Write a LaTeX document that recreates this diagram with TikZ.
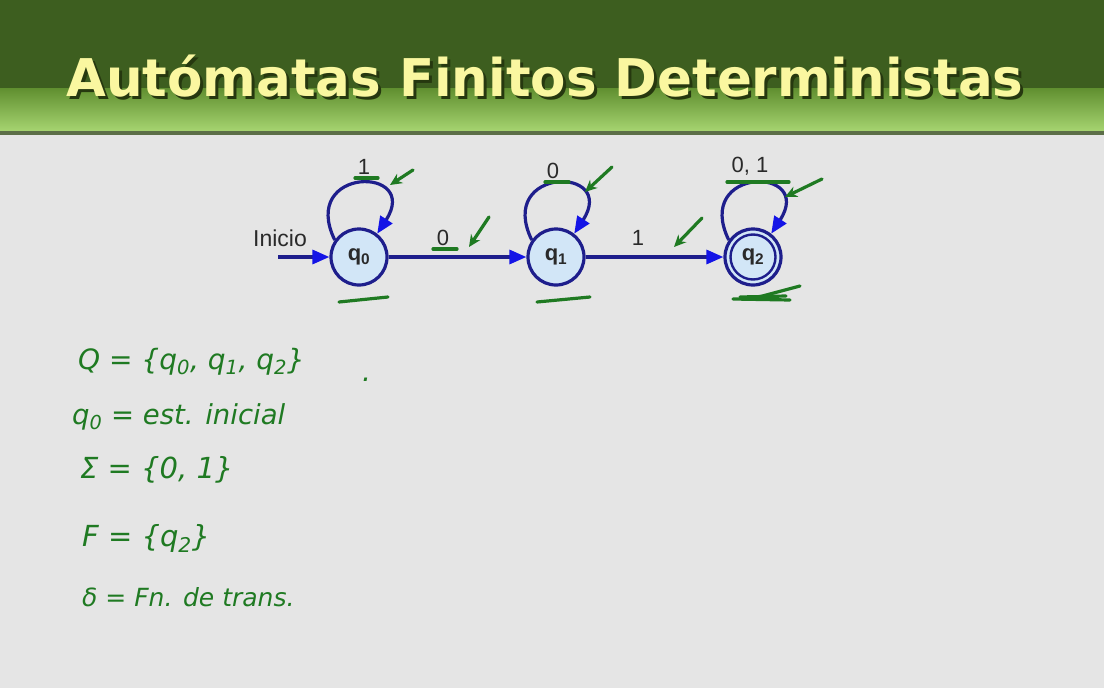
\documentclass[tikz,border=0pt]{standalone}
\usepackage{fontspec}
\setmainfont{Liberation Sans}
\newfontfamily\titlefont{DejaVu Sans}
\newfontfamily\handfont{DejaVu Sans}
\usetikzlibrary{arrows.meta}
\definecolor{bg}{HTML}{E5E5E5}
\definecolor{hdark}{HTML}{3D5E1F}
\definecolor{hmid}{HTML}{608F30}
\definecolor{hlight}{HTML}{A6D470}
\definecolor{hline}{HTML}{5C6E48}
\definecolor{titleyellow}{HTML}{FAF7A0}
\definecolor{titleshadow}{HTML}{26380F}
\definecolor{navy}{HTML}{1E1E8C}
\definecolor{arrowblue}{HTML}{1414E6}
\definecolor{statefill}{HTML}{D2E6F7}
\definecolor{labelgray}{HTML}{2A2A2A}
\definecolor{pen}{HTML}{1F7A22}
\newcommand{\shadowtext}[1]{\rlap{\kern3pt\raisebox{-3pt}{\textcolor{titleshadow}{#1}}}\textcolor{titleyellow}{#1}}
\tikzset{
  statenode/.style={circle, draw=navy, line width=3.2pt, fill=statefill, minimum size=56pt, inner sep=0pt,
    font=\fontsize{22}{24}\selectfont\bfseries, text=labelgray},
  edgeline/.style={draw=navy, line width=3.2pt, -{Triangle[length=17pt,width=14pt,fill=arrowblue,color=arrowblue]}},
  elabel/.style={font=\fontsize{22}{24}\selectfont, text=labelgray, inner sep=0pt},
  penline/.style={draw=pen, line width=3.2pt, line cap=round},
  penarrow/.style={draw=pen, line width=3.2pt, line cap=round, -{Stealth[length=12pt,width=11pt]}},
  hand/.style={font=\handfont\itshape\fontsize{28}{30}\selectfont, text=pen, anchor=base west, inner sep=0pt}
}
\begin{document}
\begin{tikzpicture}[x=1pt,y=-1pt]
\useasboundingbox (0,0) rectangle (1104,688);
\fill[bg] (0,0) rectangle (1104,688);
% header
\fill[hdark] (0,0) rectangle (1104,88);
\shade[top color=hmid, bottom color=hlight] (0,88) rectangle (1104,131);
\fill[hline] (0,131) rectangle (1104,135);
\node[font=\titlefont\bfseries\fontsize{52}{60}\selectfont, xscale=0.99, anchor=base, inner sep=0pt] (title) at (545,96) {\shadowtext{Autómatas Finitos Deterministas}};
% automaton
\node[statenode] (q0) at (359,257) {q\textsubscript{0}};
\node[statenode] (q1) at (556,257) {q\textsubscript{1}};
\node[statenode] (q2) at (753,257) {q\textsubscript{2}};
\draw[navy, line width=2.4pt] (q2.center) circle (22.5);
\coordinate (start) at (278,257);
\draw[edgeline] (start) -- (q0);
\draw[edgeline] (q0) -- (q1);
\draw[edgeline] (q1) -- (q2);
\draw[edgeline] (q0.145) .. controls +(-36,-74) and +(44,-68) .. (q0.52);
\draw[edgeline] (q1.145) .. controls +(-36,-74) and +(44,-68) .. (q1.52);
\draw[edgeline] (q2.145) .. controls +(-36,-74) and +(44,-68) .. (q2.52);
\node[elabel, font=\fontsize{23}{24}\selectfont] (inicio) at (280,238) {Inicio};
\node[elabel] (l00) at (364,167) {1};
\node[elabel] (l11) at (553,171) {0};
\node[elabel] (l22) at (750,166) {0, 1};
\node[elabel] (l01) at (443,238) {0};
\node[elabel] (l12) at (638,238) {1};
% pen annotations
\coordinate (u1a) at (355,178); \coordinate (u1b) at (378,178);
\draw[penline] (u1a) -- (u1b);
\coordinate (u2a) at (433,249); \coordinate (u2b) at (457,249);
\draw[penline] (u2a) -- (u2b);
\coordinate (u3a) at (545,182); \coordinate (u3b) at (569,182);
\draw[penline] (u3a) -- (u3b);
\coordinate (u4a) at (727,182); \coordinate (u4b) at (789,182);
\draw[penline] (u4a) -- (u4b);
\coordinate (s0a) at (339,302); \coordinate (s0b) at (388,297);
\draw[penline] (s0a) -- (s0b);
\coordinate (s1a) at (537,302); \coordinate (s1b) at (590,297);
\draw[penline] (s1a) -- (s1b);
\coordinate (s2a) at (733,299); \coordinate (s2b) at (790,300);
\coordinate (s2c) at (740,297); \coordinate (s2d) at (786,296);
\coordinate (s2e) at (755,298); \coordinate (s2f) at (800,286);
\draw[penline] (s2a) -- (s2b);
\draw[penline] (s2c) -- (s2d);
\draw[penline] (s2e) -- (s2f);
\coordinate (a1s) at (413,170); \coordinate (a1e) at (390,185);
\draw[penarrow] (a1s) -- (a1e);
\coordinate (a2s) at (489,217); \coordinate (a2e) at (469,247);
\draw[penarrow] (a2s) -- (a2e);
\coordinate (a3s) at (612,167); \coordinate (a3e) at (585,192);
\draw[penarrow] (a3s) -- (a3e);
\coordinate (a4s) at (702,218); \coordinate (a4e) at (674,247);
\draw[penarrow] (a4s) -- (a4e);
\coordinate (a5s) at (822,179); \coordinate (a5e) at (785,197);
\draw[penarrow] (a5s) -- (a5e);
% handwritten text
\node[hand] (tQ) at (78,369) {Q = \{q\textsubscript{0}, q\textsubscript{1}, q\textsubscript{2}\}};
\node[hand] (tdot) at (362,381) {.};
\node[hand, font=\handfont\itshape\fontsize{27.5}{29}\selectfont] (tq0) at (72,424) {q\textsubscript{0} = est. inicial};
\node[hand, font=\handfont\itshape\fontsize{29}{30}\selectfont] (tS) at (80,478) {Σ = \{0, 1\}};
\node[hand, font=\handfont\itshape\fontsize{29}{30}\selectfont] (tF) at (82,546) {F = \{q\textsubscript{2}\}};
\node[hand, font=\handfont\itshape\fontsize{25}{28}\selectfont] (td) at (82,606) {δ = Fn. de trans.};
\end{tikzpicture}
\end{document}
